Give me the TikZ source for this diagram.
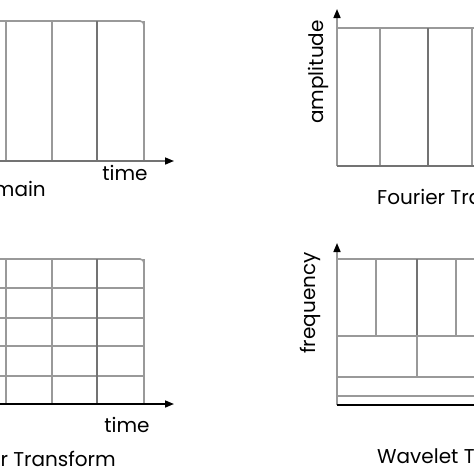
\documentclass[tikz,border=0pt]{standalone}
\usepackage{fontspec}
\setmainfont{Poppins}
\usepackage{xcolor}
\usetikzlibrary{arrows.meta}

\definecolor{gridgray}{gray}{0.6}
\definecolor{darkgrid}{gray}{0.45}

\tikzset{
  cell/.style={draw=gridgray, line width=1.6pt},
  darkcell/.style={draw=darkgrid, line width=1.6pt},
  axisline/.style={draw=gridgray, line width=1.6pt},
  axistip/.style={-{Triangle[length=9pt,width=7pt,black]}},
  label/.style={font=\fontsize{20}{24}\selectfont, inner sep=0pt},
}

\begin{document}
\begin{tikzpicture}[x=1pt,y=-1pt]
                \useasboundingbox (0,0) rectangle (474,474);
                \clip (0,0) rectangle (474,474);
                % time domain
                \draw [cell] (-40,21) -- (140,21) to[out=0,in=90] (144,25);
                \draw [cell] (6,21) -- (6,161);
                \draw [cell] (52,21) -- (52,161);
                \draw [darkcell] (97,21) -- (97,161);
                \draw [cell] (144,21) -- (144,161);
                \coordinate (tdo) at (-40,161);
                \coordinate (tdx) at (174,161);
                \draw [darkcell, axistip] (tdo) -- (tdx);
                \node [label] (tdtime) at (125,173) {time};
                \node [label, anchor=east] (tdname) at (46,189) {Time Domain};
                % fourier transform
                \coordinate (fto) at (337,166);
                \coordinate (fty) at (337,9);
                \draw [axisline, axistip] (fto) -- (fty);
                \draw [cell] (337,28) -- (480,28);
                \draw [cell] (380,28) -- (380,166);
                \draw [darkcell] (428,28) -- (428,166);
                \draw [cell] (472,28) -- (472,166);
                \draw [darkcell] (fto) -- (480,166);
                \node [label, rotate=90] (ftamp) at (318,72) {amplitude};
                \node [label, anchor=west] (ftname) at (377,197) {Fourier Transform};
                % short time fourier transform
                \draw [cell] (-40,259) -- (140,259) to[out=0,in=90] (144,263);
                \draw [cell] (-40,288) -- (144,288);
                \draw [cell] (-40,318) -- (144,318);
                \draw [cell] (-40,346) -- (144,346);
                \draw [cell] (-40,376) -- (144,376);
                \draw [cell] (6,259) -- (6,404);
                \draw [cell] (52,259) -- (52,404);
                \draw [darkcell] (97,259) -- (97,404);
                \draw [cell] (144,259) -- (144,404);
                \coordinate (sto) at (-40,404);
                \coordinate (stx) at (174,404);
                \draw [line width=1.6pt, black, axistip] (sto) -- (stx);
                \node [label] (sttime) at (127,425) {time};
                \node [label, anchor=east] (stname) at (116,459) {Short Time Fourier Transform};
                % wavelet transform
                \coordinate (wto) at (337,405);
                \coordinate (wty) at (337,243);
                \draw [axisline, axistip] (wto) -- (wty);
                \draw [cell] (337,259) -- (480,259);
                \draw [cell] (376,259) -- (376,336);
                \draw [darkcell] (417,259) -- (417,336);
                \draw [cell] (456,259) -- (456,336);
                \draw [cell] (337,336) -- (480,336);
                \draw [cell] (417,336) -- (417,377);
                \draw [cell] (337,377) -- (480,377);
                \draw [cell] (337,396) -- (480,396);
                \draw [line width=1.8pt, black] (wto) -- (480,405);
                \node [label, rotate=90] (wtfreq) at (310,303) {frequency};
                \node [label, anchor=west] (wtname) at (377,456) {Wavelet Transform};
            \end{tikzpicture}
\end{document}
